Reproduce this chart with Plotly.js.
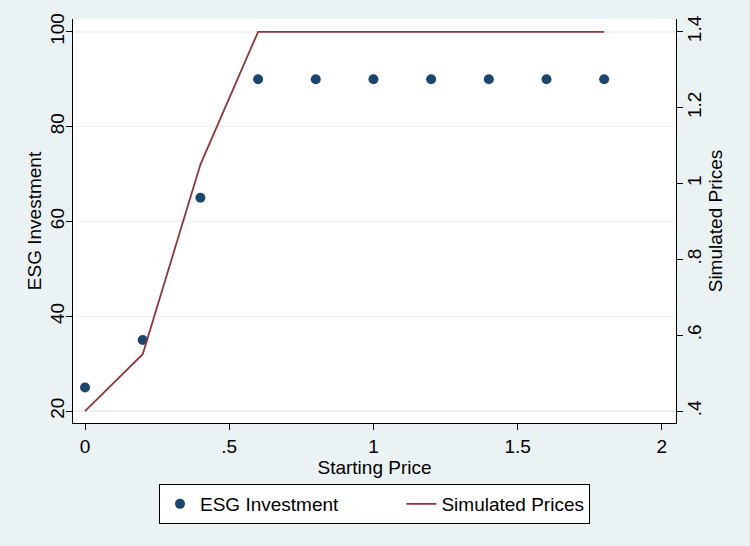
<!DOCTYPE html>
<html>
<head>
<meta charset="utf-8">
<script src="https://cdn.plot.ly/plotly-3.0.1.min.js"></script>
<style>
  html, body { margin: 0; padding: 0; background: #eaf2f3; }
  #chart { width: 750px; height: 546px; }
</style>
</head>
<body>
<div id="chart"></div>
<script>
// Data
const startingPrice = [0, 0.2, 0.4, 0.6, 0.8, 1.0, 1.2, 1.4, 1.6, 1.8];
const esgInvestment = [25, 35, 65, 90, 90, 90, 90, 90, 90, 90];
const simulatedPrices = [0.4, 0.55, 1.05, 1.4, 1.4, 1.4, 1.4, 1.4, 1.4, 1.4];

const xTickVals = [0, 0.5, 1, 1.5, 2];
const xTickText = ['0', '.5', '1', '1.5', '2'];
const y1TickVals = [20, 40, 60, 80, 100];
const y1TickText = ['20', '40', '60', '80', '100'];
const y2TickVals = [0.4, 0.6, 0.8, 1.0, 1.2, 1.4];
const y2TickText = ['.4', '.6', '.8', '1', '1.2', '1.4'];

const FONT = 'Arial, "Liberation Sans", sans-serif';
const FS = 19;
const BG = '#eaf2f3';
const PAD = '\u00a0'.repeat(11);

const traces = [
  {
    type: 'scatter', mode: 'markers', name: 'ESG Investment' + PAD,
    x: startingPrice, y: esgInvestment, yaxis: 'y',
    marker: { color: '#1a476f', size: 10 },
    cliponaxis: false
  },
  {
    type: 'scatter', mode: 'lines', name: 'Simulated Prices',
    x: startingPrice, y: simulatedPrices, yaxis: 'y2',
    line: { color: '#90353b', width: 1.8 },
    cliponaxis: false
  }
];

const axisCommon = {
  showline: true, linecolor: '#000', linewidth: 1,
  ticks: 'outside', ticklen: 6, tickcolor: '#000', tickwidth: 1,
  zeroline: false, automargin: false,
  tickfont: { family: FONT, size: FS, color: '#000' }
};

const layout = {
  width: 750, height: 546,
  paper_bgcolor: BG, plot_bgcolor: '#ffffff',
  margin: { l: 73, r: 74, t: 19, b: 123 },
  font: { family: FONT, size: FS, color: '#000' },
  showlegend: true,
  xaxis: Object.assign({}, axisCommon, {
    range: [-0.0417, 2.049],
    tickmode: 'array', tickvals: xTickVals, ticktext: xTickText,
    showgrid: false,
    ticklabelstandoff: 0,
    title: { text: 'Starting Price', font: { family: FONT, size: FS, color: '#000' }, standoff: 0 }
  }),
  yaxis: Object.assign({}, axisCommon, {
    range: [17.5, 102.7],
    tickmode: 'array', tickvals: y1TickVals, ticktext: y1TickText,
    tickangle: -90,
    ticklabelstandoff: -6,
    showgrid: true, gridcolor: BG, gridwidth: 1.5,
    title: { text: 'ESG Investment', font: { family: FONT, size: FS, color: '#000' }, standoff: 0 }
  }),
  yaxis2: Object.assign({}, axisCommon, {
    overlaying: 'y', side: 'right',
    range: [0.36875, 1.43375],
    tickmode: 'array', tickvals: y2TickVals, ticktext: y2TickText,
    tickangle: -90,
    ticklabelstandoff: -5,
    showgrid: false,
    title: { text: 'Simulated Prices', font: { family: FONT, size: FS, color: '#000' }, standoff: 4 }
  }),
  legend: {
    orientation: 'h', x: 0.5, xanchor: 'center', y: -0.151, yanchor: 'top',
    bgcolor: '#ffffff', bordercolor: '#000', borderwidth: 1,
    font: { family: FONT, size: FS, color: '#000' },
    itemwidth: 30
  }
};

Plotly.newPlot('chart', traces, layout, { displayModeBar: false, staticPlot: true });
</script>
</body>
</html>
